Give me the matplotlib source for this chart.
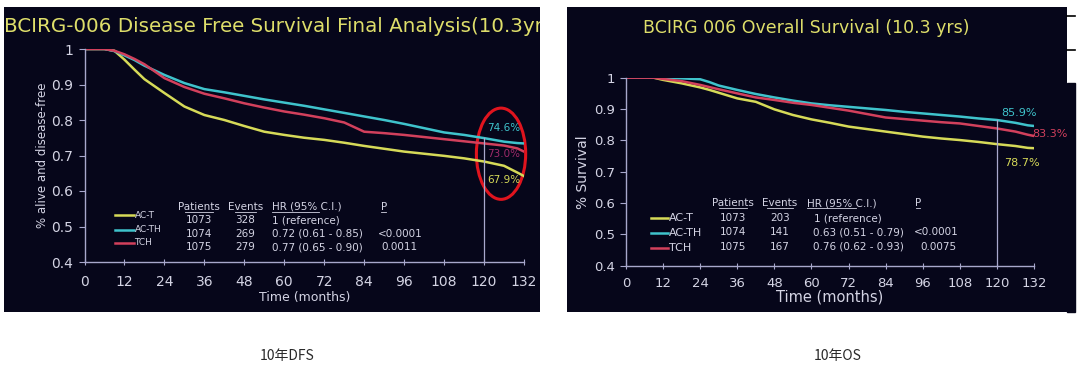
import matplotlib.pyplot as plt
from matplotlib.patches import Ellipse, Rectangle

# datos (DFS a la izquierda, OS a la derecha)
meses_dfs = [0, 6, 9, 12, 15, 18, 24, 30, 36, 42, 48, 54, 60, 66, 72, 78, 84, 90, 96, 102, 108, 114, 120, 126, 130, 132]
dfs_act = [1.0, 1.0, 0.995, 0.97, 0.942, 0.915, 0.876, 0.838, 0.814, 0.80, 0.783, 0.767, 0.758, 0.75, 0.744, 0.736,
           0.727, 0.719, 0.711, 0.705, 0.699, 0.692, 0.683, 0.671, 0.652, 0.642]
dfs_acth = [1.0, 1.0, 0.994, 0.982, 0.969, 0.953, 0.927, 0.904, 0.887, 0.878, 0.868, 0.858, 0.849, 0.840, 0.830, 0.820,
            0.810, 0.800, 0.789, 0.777, 0.765, 0.758, 0.749, 0.739, 0.735, 0.734]
dfs_tch = [1.0, 1.0, 0.995, 0.985, 0.972, 0.957, 0.918, 0.893, 0.874, 0.861, 0.847, 0.835, 0.824, 0.815, 0.805, 0.793,
           0.767, 0.763, 0.758, 0.752, 0.746, 0.740, 0.734, 0.728, 0.72, 0.711]

meses_os = [0, 9, 12, 18, 24, 27, 30, 36, 42, 48, 54, 60, 66, 72, 78, 84, 90, 96, 102, 108, 114, 120, 126, 130, 132]
os_act = [1.0, 1.0, 0.993, 0.982, 0.969, 0.961, 0.952, 0.934, 0.923, 0.899, 0.881, 0.867, 0.856, 0.844, 0.836, 0.828,
          0.820, 0.812, 0.806, 0.801, 0.795, 0.788, 0.782, 0.776, 0.775]
os_acth = [1.0, 1.0, 1.0, 0.998, 0.995, 0.986, 0.975, 0.961, 0.948, 0.937, 0.927, 0.918, 0.912, 0.907, 0.902, 0.897,
           0.891, 0.886, 0.881, 0.876, 0.870, 0.865, 0.856, 0.848, 0.846]
os_tch = [1.0, 1.0, 0.996, 0.989, 0.977, 0.970, 0.963, 0.950, 0.937, 0.929, 0.92, 0.913, 0.904, 0.895, 0.884, 0.873,
          0.868, 0.863, 0.858, 0.854, 0.846, 0.838, 0.828, 0.818, 0.814]

brazos = ['AC-T', 'AC-TH', 'TCH']
pacientes = ['1073', '1074', '1075']
eventos_dfs = ['328', '269', '279']
eventos_os = ['203', '141', '167']
hr_dfs = ['1 (reference)', '0.72 (0.61 - 0.85)', '0.77 (0.65 - 0.90)']
hr_os = ['1 (reference)', '0.63 (0.51 - 0.79)', '0.76 (0.62 - 0.93)']
p_dfs = ['', '<0.0001', '0.0011']
p_os = ['', '<0.0001', '0.0075']
final_dfs = ['67.9%', '74.6%', '73.0%']
final_os = ['78.7%', '85.9%', '83.3%']
ticks_x = list(range(0, 133, 12))
ticks_y = [0.4, 0.5, 0.6, 0.7, 0.8, 0.9, 1.0]
etiquetas_y = ['0.4', '0.5', '0.6', '0.7', '0.8', '0.9', '1']

colores = ['#d6da58', '#3fc3cc', '#d2405c']
texto = '#d4d4e4'
eje = '#a8a8cc'
fondo = '#06061a'

W, H = 1080, 374
fig = plt.figure(figsize=(W / 100, H / 100), dpi=100)
fig.patch.set_facecolor('white')


def caja(x0, y0, x1, y1):
    # rectangulo en pixeles (origen arriba a la izquierda)
    return [x0 / W, 1 - y1 / H, (x1 - x0) / W, (y1 - y0) / H]


# paneles oscuros
p1 = fig.add_axes(caja(4, 7, 540, 312))
p2 = fig.add_axes(caja(567, 7, 1067, 312))
for p in (p1, p2):
    p.set_facecolor(fondo)
    p.set_xticks([])
    p.set_yticks([])
    for s in p.spines.values():
        s.set_visible(False)
p2.add_patch(Rectangle((1.0, 0.0), 0.016, 0.75, transform=p2.transAxes, color=fondo, clip_on=False))
p2.plot([1.0, 1.016], [0.97, 0.97], transform=p2.transAxes, color='black', lw=1.2, clip_on=False)
p2.plot([1.0, 1.016], [0.86, 0.86], transform=p2.transAxes, color='black', lw=1.2, clip_on=False)

p1.text(0.0, 0.935, 'BCIRG-006 Disease Free Survival Final Analysis(10.3yrs)', transform=p1.transAxes,
        color='#dede6a', fontsize=14.3, ha='left', va='center', clip_on=True)
p2.text(0.152, 0.93, 'BCIRG 006 Overall Survival (10.3 yrs)', transform=p2.transAxes,
        color='#dede6a', fontsize=12.5, ha='left', va='center')


def estilo(ax, tam, pad_x):
    ax.set_facecolor('none')
    ax.set_xlim(0, 132)
    ax.set_ylim(0.4, 1.0)
    for s in ['top', 'right']:
        ax.spines[s].set_visible(False)
    for s in ['left', 'bottom']:
        ax.spines[s].set_color(eje)
        ax.spines[s].set_linewidth(1.0)
    ax.set_xticks(ticks_x)
    ax.set_yticks(ticks_y)
    ax.set_yticklabels(etiquetas_y)
    ax.tick_params(axis='y', colors=eje, labelcolor=texto, labelsize=tam, length=4, direction='out', pad=4)
    ax.tick_params(axis='x', colors=eje, labelcolor=texto, labelsize=tam, length=4, direction='inout', pad=pad_x)


# ---- DFS ----
ax1 = fig.add_axes(caja(84.5, 49, 524, 262))
estilo(ax1, 10, 7)
for y, c in zip([dfs_act, dfs_acth, dfs_tch], colores):
    ax1.plot(meses_dfs, y, color=c, lw=1.8)
ax1.plot([120, 120], [0.4, dfs_acth[meses_dfs.index(120)]], color=eje, lw=0.9)
ax1.add_patch(Ellipse((125.1, 0.705), 14.8, 0.257, fill=False, edgecolor='#e0141e', lw=2.2, clip_on=False))
ax1.text(125.8, 0.777, final_dfs[1], color=colores[1], fontsize=7.5, ha='center', va='center')
ax1.text(125.8, 0.704, final_dfs[2], color='#a02a6a', fontsize=7.5, ha='center', va='center')
ax1.text(125.8, 0.631, final_dfs[0], color=colores[0], fontsize=7.5, ha='center', va='center')
ax1.set_xlabel('Time (months)', color=texto, fontsize=9, labelpad=2)
ax1.set_ylabel('% alive and disease-free', color=texto, fontsize=8.5, labelpad=2)

# tabla de la izquierda
fs = 7.5
ax1.text(34.5, 0.555, 'Patients', color=texto, fontsize=fs, ha='center', va='center')
ax1.text(48.3, 0.555, 'Events', color=texto, fontsize=fs, ha='center', va='center')
ax1.text(56.4, 0.555, 'HR (95% C.I.)', color=texto, fontsize=fs, ha='left', va='center')
ax1.text(89.9, 0.555, 'P', color=texto, fontsize=fs, ha='center', va='center')
for x0, x1 in [(30.3, 38.7), (45.1, 51.5), (56.4, 70.5), (89.2, 90.6)]:
    ax1.plot([x0, x1], [0.541, 0.541], color=texto, lw=0.6)
for i in range(3):
    yl = [0.532, 0.491, 0.454][i]
    yr = [0.518, 0.480, 0.441][i]
    ax1.plot([9.3, 14.8], [yl, yl], color=colores[i], lw=1.8)
    ax1.text(15.0, yl, brazos[i], color=texto, fontsize=6.5, ha='left', va='center')
    ax1.text(34.5, yr, pacientes[i], color=texto, fontsize=fs, ha='center', va='center')
    ax1.text(48.3, yr, eventos_dfs[i], color=texto, fontsize=fs, ha='center', va='center')
    ax1.text(56.4, yr, hr_dfs[i], color=texto, fontsize=fs, ha='left', va='center')
    ax1.text(88.0 if i == 1 else 89.2, yr, p_dfs[i], color=texto, fontsize=fs, ha='left', va='center')

# ---- OS ----
ax2 = fig.add_axes(caja(626, 77.7, 1034, 265.7))
estilo(ax2, 9.5, 6)
for y, c in zip([os_act, os_acth, os_tch], colores):
    ax2.plot(meses_os, y, color=c, lw=1.8)
ax2.plot([120, 120], [0.4, os_acth[meses_os.index(120)]], color=eje, lw=0.9)
ax2.text(127, 0.888, final_os[1], color=colores[1], fontsize=8, ha='center', va='center')
ax2.text(137, 0.82, final_os[2], color=colores[2], fontsize=8, ha='center', va='center', clip_on=False)
ax2.text(128, 0.727, final_os[0], color=colores[0], fontsize=8, ha='center', va='center')
ax2.set_xlabel('Time (months)', color=texto, fontsize=10.5, labelpad=0)
ax2.set_ylabel('% Survival', color=texto, fontsize=10, labelpad=3)

fs = 7.5
ax2.text(34.5, 0.599, 'Patients', color=texto, fontsize=fs, ha='center', va='center')
ax2.text(49.8, 0.599, 'Events', color=texto, fontsize=fs, ha='center', va='center')
ax2.text(58.5, 0.599, 'HR (95% C.I.)', color=texto, fontsize=fs, ha='left', va='center')
ax2.text(94.4, 0.599, 'P', color=texto, fontsize=fs, ha='center', va='center')
for x0, x1 in [(30.0, 39.0), (45.6, 54.0), (58.5, 74.5), (93.7, 95.1)]:
    ax2.plot([x0, x1], [0.583, 0.583], color=texto, lw=0.6)
for i in range(3):
    yl = [0.551, 0.503, 0.455][i]
    ax2.plot([8.0, 13.7], [yl, yl], color=colores[i], lw=1.8)
    ax2.text(13.9, yl, brazos[i], color=texto, fontsize=8, ha='left', va='center')
    yr = [0.551, 0.506, 0.461][i]
    ax2.text(34.5, yr, pacientes[i], color=texto, fontsize=fs, ha='center', va='center')
    ax2.text(49.8, yr, eventos_os[i], color=texto, fontsize=fs, ha='center', va='center')
    ax2.text(60.7 if i == 0 else 60.4, yr, hr_os[i], color=texto, fontsize=fs, ha='left', va='center')
    ax2.text(93.0 if i == 1 else 95.2, yr, p_os[i], color=texto, fontsize=fs, ha='left', va='center')

# leyendas de abajo
fig.text(287 / W, 1 - 356 / H, '10年DFS', ha='center', va='center', fontsize=10, color='#2a2a2a',
         family=['Noto Sans CJK SC', 'DejaVu Sans'])
fig.text(838 / W, 1 - 356 / H, '10年OS', ha='center', va='center', fontsize=10, color='#2a2a2a',
         family=['Noto Sans CJK SC', 'DejaVu Sans'])

fig.savefig('out.png', dpi=100, facecolor='white')
